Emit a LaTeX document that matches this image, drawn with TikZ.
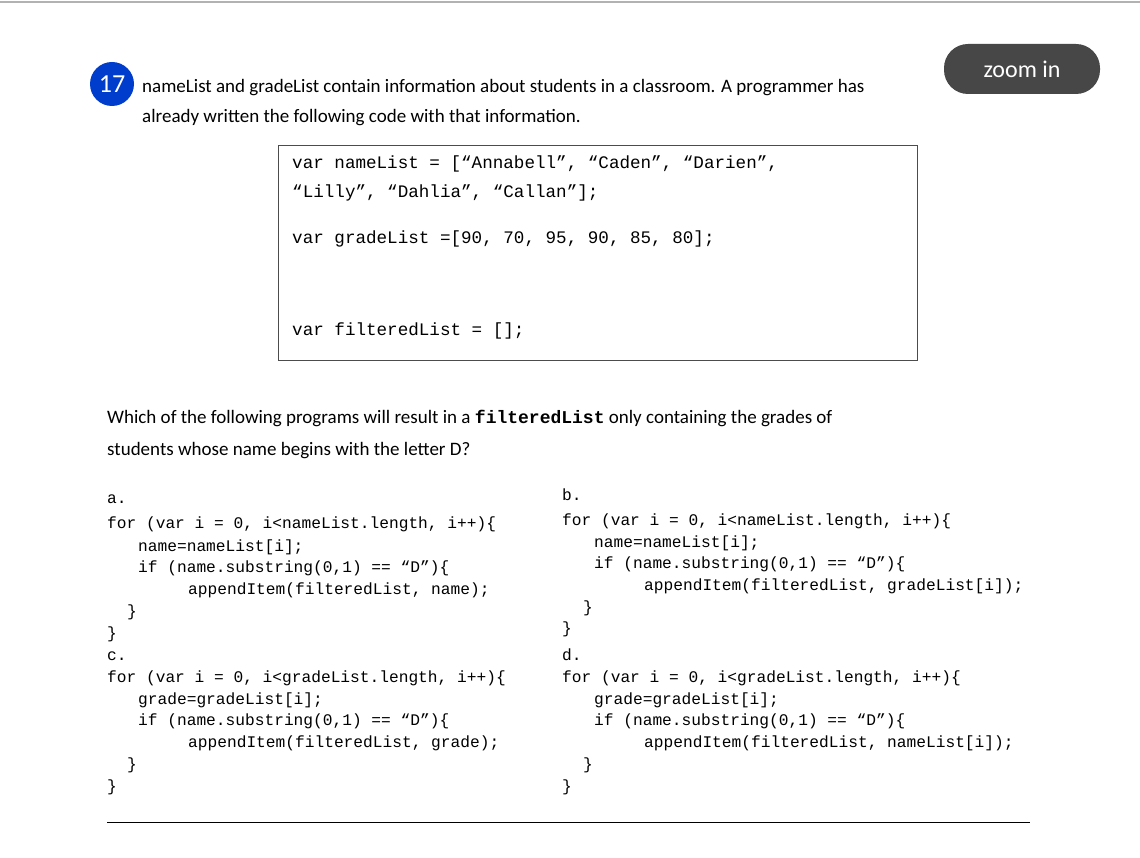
\documentclass[tikz,border=0pt]{standalone}
\usepackage{fontspec}
\setmainfont{Carlito}
\newfontfamily\cmono{Liberation Mono}
\begin{document}
\begin{tikzpicture}[x=1pt,y=-1pt,
  txt/.style={anchor=base west,inner sep=0pt,font=\fontsize{19}{22}\selectfont},
  box/.style={anchor=base west,inner sep=0pt,font=\cmono\fontsize{17.6}{20}\selectfont},
  cd/.style={anchor=base west,inner sep=0pt,font=\cmono\fontsize{16.2}{20}\selectfont}]
\useasboundingbox (0,0) rectangle (1140,858);
\fill[white] (0,0) rectangle (1140,858);
\draw[gray!60,line width=1.2pt] (0,2) -- (1140,2);
% question
\node[txt] (l1) at (142,93) {nameList and gradeList contain information about students in a classroom. A programmer has};
\node[txt] (l2) at (142,123) {already written the following code with that information.};
\node[circle,fill=blue!70!cyan!80!black,minimum size=44pt,inner sep=0pt,text=white,font=\fontsize{26}{28}\selectfont] (num) at (112,84) {17};
\node[rounded corners=24pt,fill=black!72,minimum width=156pt,minimum height=50pt,text=white,font=\fontsize{24}{26}\selectfont] (zoom) at (1022,69) {zoom in};
% code box
\draw[black!70,line width=0.8pt] (278,145) rectangle (917,360);
\node[box] (c1) at (292,169) {var nameList = [“Annabell”, “Caden”, “Darien”,};
\node[box] (c2) at (292,198) {“Lilly”, “Dahlia”, “Callan”];};
\node[box] (c3) at (292,244) {var gradeList =[90, 70, 95, 90, 85, 80];};
\node[box] (c4) at (292,336) {var filteredList = [];};
% question
\node[txt] (q1) at (107,423) {Which of the following programs will result in a {\cmono\bfseries\fontsize{18}{20}\selectfont filteredList} only containing the grades of};
\node[txt] (q2) at (107,455) {students whose name begins with the letter D?};
% a
\node[cd] (a0) at (107,503) {a.};
\node[cd] (a1) at (107,528) {for (var i = 0, i<nameList.length, i++)\{};
\node[cd] (a2) at (138,551) {name=nameList[i];};
\node[cd] (a3) at (138,572) {if (name.substring(0,1) == “D”)\{};
\node[cd] (a4) at (188,594) {appendItem(filteredList, name);};
\node[cd] (a5) at (127,616) {\}};
\node[cd] (a6) at (107,638) {\}};
% c
\node[cd] (c0) at (107,660) {c.};
\node[cd] (cc1) at (107,682) {for (var i = 0, i<gradeList.length, i++)\{};
\node[cd] (cc2) at (138,704) {grade=gradeList[i];};
\node[cd] (cc3) at (138,725) {if (name.substring(0,1) == “D”)\{};
\node[cd] (cc4) at (188,747) {appendItem(filteredList, grade);};
\node[cd] (cc5) at (127,769) {\}};
\node[cd] (cc6) at (107,791) {\}};
% b
\node[cd] (b0) at (562,500) {b.};
\node[cd] (b1) at (562,525) {for (var i = 0, i<nameList.length, i++)\{};
\node[cd] (b2) at (594,547) {name=nameList[i];};
\node[cd] (b3) at (594,568) {if (name.substring(0,1) == “D”)\{};
\node[cd] (b4) at (644,590) {appendItem(filteredList, gradeList[i]);};
\node[cd] (b5) at (583,612) {\}};
\node[cd] (b6) at (562,633) {\}};
% d
\node[cd] (d0) at (562,660) {d.};
\node[cd] (d1) at (562,682) {for (var i = 0, i<gradeList.length, i++)\{};
\node[cd] (d2) at (594,704) {grade=gradeList[i];};
\node[cd] (d3) at (594,725) {if (name.substring(0,1) == “D”)\{};
\node[cd] (d4) at (644,747) {appendItem(filteredList, nameList[i]);};
\node[cd] (d5) at (583,769) {\}};
\node[cd] (d6) at (562,791) {\}};
\draw[black,line width=0.8pt] (107,822) -- (1030,822);
\end{tikzpicture}
\end{document}
